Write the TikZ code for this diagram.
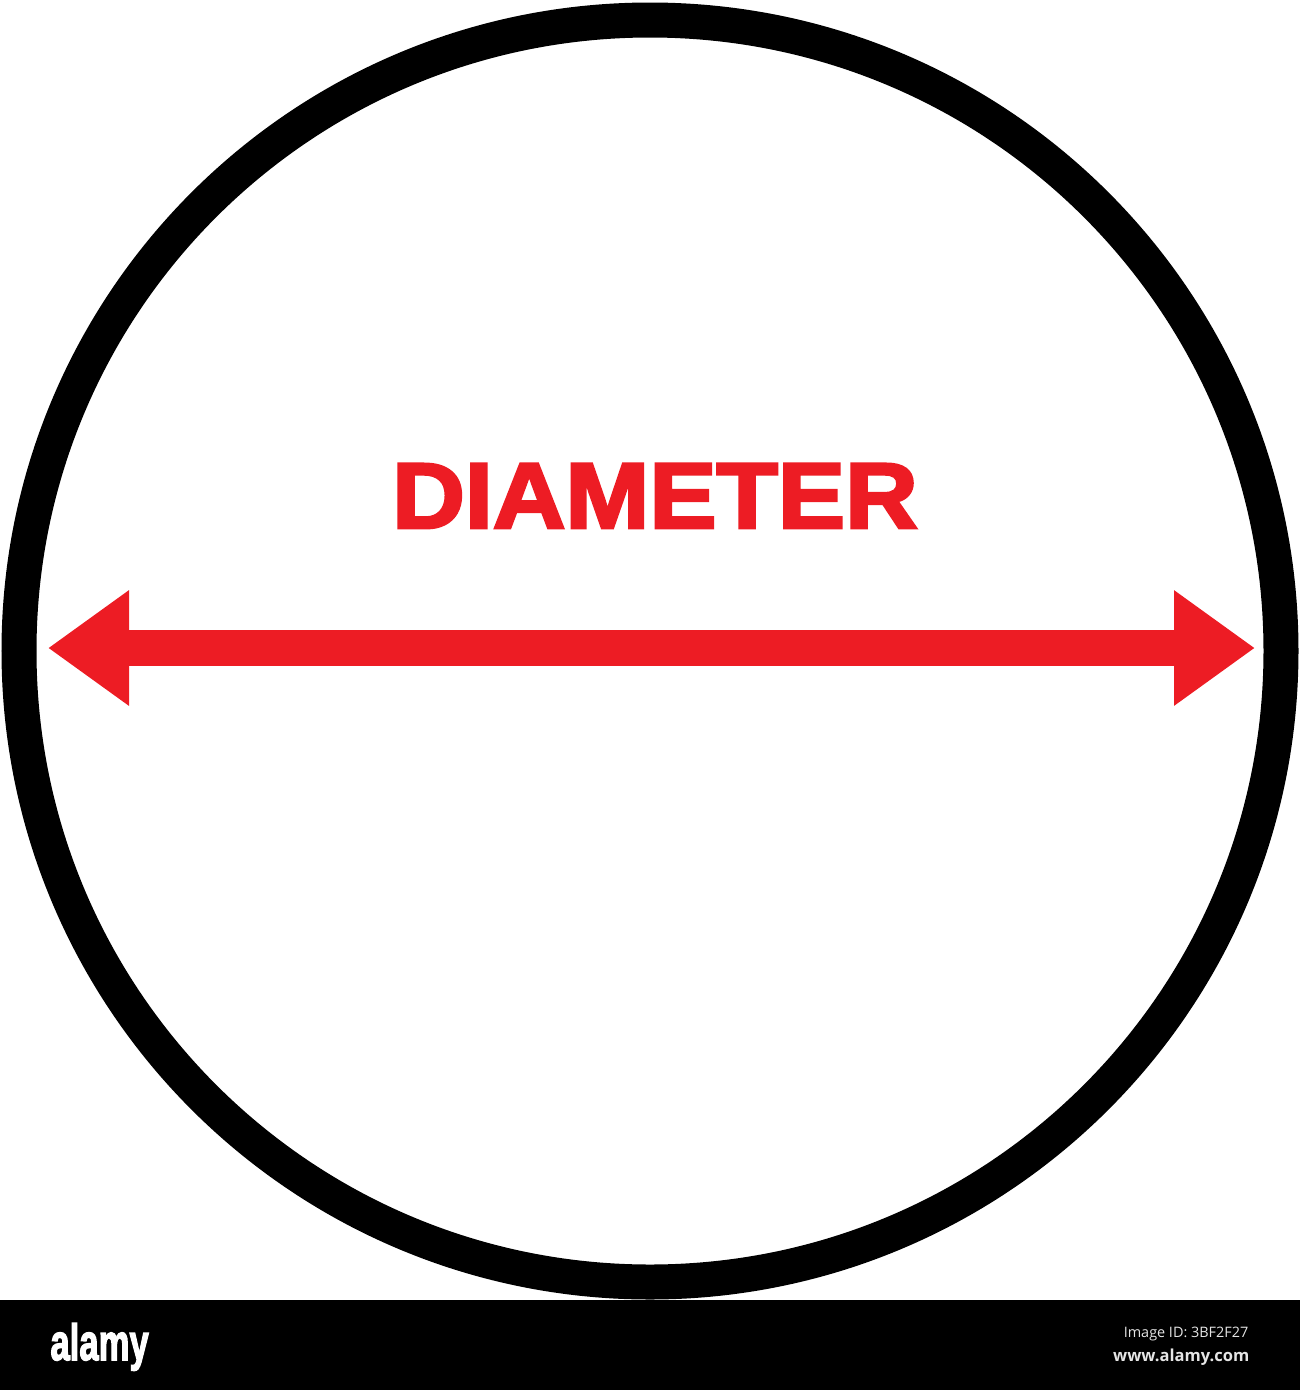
\documentclass[tikz,border=0pt]{standalone}
\usepackage{fontspec}
\setmainfont{Liberation Sans}
\newfontfamily\notefont{Open Sans}
\newfontfamily\heavyfont{Liberation Sans}[BoldFeatures={FakeBold=3}]
\usetikzlibrary{arrows.meta}
\definecolor{diamred}{HTML}{ED1C24}
\newcommand{\Px}{0.01cm}
\tikzset{Rim/.style={
    draw=black,
    line width=35*\Px,
    },
  Span/.style={
    draw=diamred,
    line width=36*\Px,
    {Triangle[length=81*\Px,width=110*\Px]}-{Triangle[length=81*\Px,width=110*\Px]},
    },
}

\begin{document}
\begin{tikzpicture}[x=\Px, y=-\Px,
    label/.style={inner sep=0pt, anchor=base, text=diamred,
      font=\heavyfont\fontsize{26.5}{30}\selectfont\bfseries, xscale=1.08},
]
\useasboundingbox (0,0) rectangle (1300,1390);
% circle
\coordinate (centre) at (650,651);
\draw [Rim] (centre) circle [radius=631*\Px];
% diameter arrow
\coordinate (west) at (48,648);
\coordinate (east) at (1255,648);
\draw [Span] (west) -- (east);
\node [label] (name) at (655,528) {DIAMETER};
% bottom strip
\fill [black] (0,1300) rectangle (1300,1390);
\node [inner sep=0pt, anchor=base west, text=white, xscale=0.68,
  font=\heavyfont\fontsize{14.5}{16}\selectfont\bfseries] (logo) at (50,1360) {alamy};
\node [inner sep=0pt, anchor=base east, text=white!90!black,
  font=\notefont\fontsize{4.1}{5}\selectfont] (imgid) at (1249,1337) {Image ID: 3BF2F27};
\node [inner sep=0pt, anchor=base east, text=white!90!black,
  font=\notefont\fontsize{4.7}{5}\selectfont\bfseries] (site) at (1250,1361) {www.alamy.com};
\end{tikzpicture}
\end{document}
